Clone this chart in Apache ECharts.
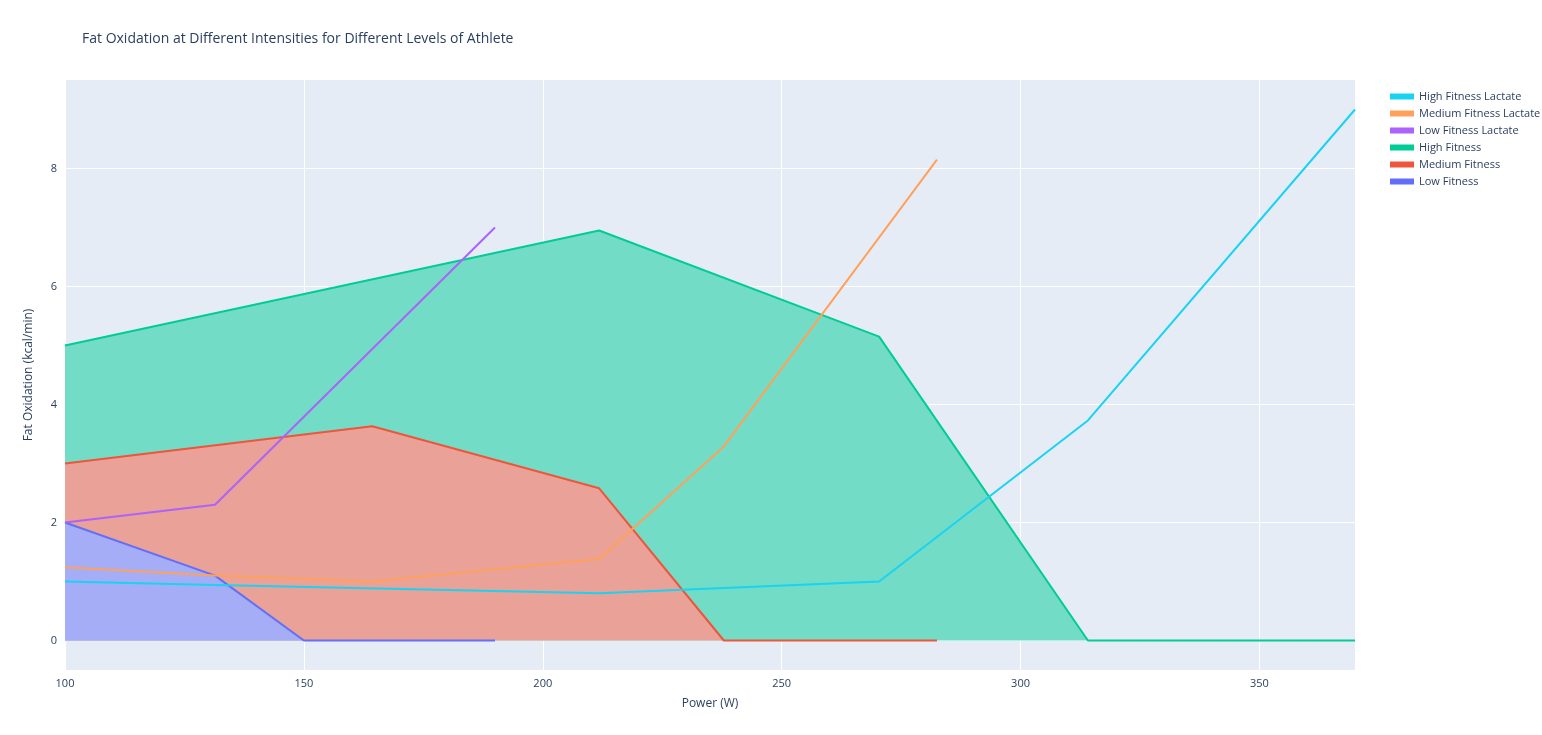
<!DOCTYPE html>
<html>
<head>
<meta charset="utf-8">
<script src="https://cdn.jsdelivr.net/npm/echarts@6/dist/echarts.min.js"></script>
<style>html,body{margin:0;padding:0;background:#fff}#main{width:1542px;height:735px}</style>
</head>
<body>
<div id="main"></div>
<script>
// power values (W) and fat oxidation per group
var highX = [100, 131.4, 211.8, 270.4, 314.1, 370];
var highFat = [5, null, 6.95, 5.15, 0, 0];
var highLac = [1.0, 0.94, 0.8, 1.0, 3.73, 9.0];
var medX = [100, 131.4, 164.3, 211.8, 237.9, 282.5];
var medFat = [3, null, 3.63, 2.58, 0, 0];
var medLac = [1.24, 1.1, 1.0, 1.38, 3.29, 8.15];
var lowX = [100, 131.4, 150, 190];
var lowFat = [2, 1.1, 0, 0];
var lowLac = [2.0, 2.3, null, 7.0];
var gridY = [0, 2, 4, 6, 8];

function pairs(xs, ys){
    var out = [];
    for (var i = 0; i < xs.length; i++) {
        if (ys[i] !== null) out.push([xs[i], ys[i]]);
    }
    return out;
}

var chart = echarts.init(document.getElementById('main'));
var font = 'Open Sans, Noto Sans, sans-serif';

function area(name, xs, ys, color, fill){
    return {
        name: name, type: 'line', data: pairs(xs, ys), symbol: 'none', z: 3,
        lineStyle: {color: color, width: 2}, itemStyle: {color: color},
        areaStyle: {color: fill, opacity: 1, origin: 0}
    };
}
function lac(name, xs, ys, color){
    return {
        name: name, type: 'line', data: pairs(xs, ys), symbol: 'none', z: 4,
        lineStyle: {color: color, width: 2}, itemStyle: {color: color}
    };
}

var series = [
    {
        name: 'grid', type: 'line', data: [], silent: true, z: 1,
        markLine: {
            silent: true, symbol: 'none', label: {show: false}, z: 1,
            lineStyle: {color: '#fff', type: 'solid', width: 1},
            data: gridY.map(function(v){ return {yAxis: v}; })
        }
    },
    area('High Fitness', highX, highFat, '#00cc96', '#72dcc6'),
    area('Medium Fitness', medX, medFat, '#EF553B', '#eaa198'),
    area('Low Fitness', lowX, lowFat, '#636efa', '#a4adf6'),
    lac('High Fitness Lactate', highX, highLac, '#19d3f3'),
    lac('Medium Fitness Lactate', medX, medLac, '#FFA15A'),
    lac('Low Fitness Lactate', lowX, lowLac, '#ab63fa')
];

chart.setOption({
    animation: false,
    title: {
        text: 'Fat Oxidation at Different Intensities for Different Levels of Athlete',
        left: 77, top: 27,
        textStyle: {color: '#2a3f5f', fontSize: 14, fontWeight: 'normal', fontFamily: font}
    },
    legend: {
        orient: 'vertical', left: 1385, top: 86, itemGap: 6,
        itemWidth: 24, itemHeight: 6, icon: 'rect',
        textStyle: {color: '#2a3f5f', fontSize: 11, fontFamily: font},
        data: ['High Fitness Lactate', 'Medium Fitness Lactate', 'Low Fitness Lactate',
               'High Fitness', 'Medium Fitness', 'Low Fitness']
    },
    grid: {left: 65, right: 187, top: 80, bottom: 65, show: true,
           backgroundColor: '#E5ECF6', borderWidth: 0},
    xAxis: {
        type: 'value', min: 100, max: 370, interval: 50,
        name: 'Power (W)', nameLocation: 'middle', nameGap: 28,
        nameTextStyle: {color: '#2a3f5f', fontSize: 12, fontFamily: font},
        axisLine: {show: false}, axisTick: {show: false},
        axisLabel: {color: '#2a3f5f', fontSize: 11, fontFamily: font, showMaxLabel: false},
        splitLine: {lineStyle: {color: '#fff', width: 1}}
    },
    yAxis: {
        type: 'value', min: -0.5, max: 9.5, interval: 0.5,
        name: 'Fat Oxidation (kcal/min)', nameLocation: 'middle', nameGap: 30,
        nameTextStyle: {color: '#2a3f5f', fontSize: 12, fontFamily: font},
        axisLine: {show: false}, axisTick: {show: false},
        axisLabel: {color: '#2a3f5f', fontSize: 11, fontFamily: font,
            formatter: function(v){ return (Math.abs(v % 2) < 1e-9 && v >= 0) ? v : ''; }},
        splitLine: {show: false}
    },
    series: series
});
</script>
</body>
</html>
